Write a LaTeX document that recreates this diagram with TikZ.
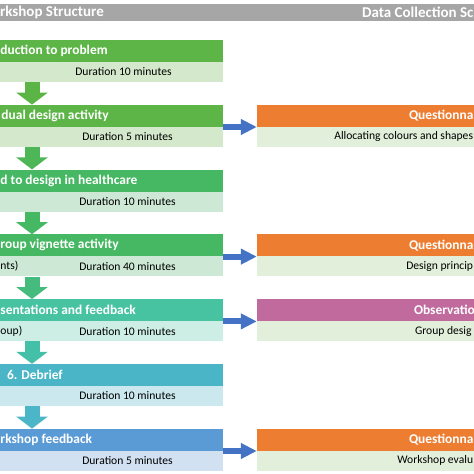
\documentclass[tikz,border=0pt]{standalone}
\usepackage{fontspec}
\setmainfont{Carlito}
\usetikzlibrary{positioning, arrows.meta}

\definecolor{headgray}{HTML}{A6A6A6}
\definecolor{green1}{HTML}{5DB548}
\definecolor{green2}{HTML}{46B763}
\definecolor{green3}{HTML}{48C3A2}
\definecolor{cyan1}{HTML}{4AB5C6}
\definecolor{blue1}{HTML}{5B9BD5}
\definecolor{lgreen1}{HTML}{D4E9CB}
\definecolor{lgreen2}{HTML}{CDE9D5}
\definecolor{lgreen3}{HTML}{CDEEE4}
\definecolor{lcyan1}{HTML}{CBE8EE}
\definecolor{lblue1}{HTML}{D2E1F2}
\definecolor{arr1}{HTML}{5BB446}
\definecolor{arr2}{HTML}{4DB657}
\definecolor{arr3}{HTML}{45B864}
\definecolor{arr4}{HTML}{45BB7E}
\definecolor{arr5}{HTML}{45C0A8}
\definecolor{arr6}{HTML}{4BB6C8}
\definecolor{orange1}{HTML}{ED7D31}
\definecolor{mauve1}{HTML}{C06A9E}
\definecolor{rsubgreen}{HTML}{E2EFDA}
\definecolor{arrowblue}{HTML}{4472C4}

\begin{document}
\begin{tikzpicture}[x=1pt,y=1pt,node distance=21pt,on grid,
    bar/.style={fill=#1, minimum width=223pt, minimum height=22pt, inner sep=0pt},
    subbar/.style={fill=#1, minimum width=223pt, minimum height=20pt, inner sep=0pt},
    rbar/.style={fill=#1, minimum width=382pt, minimum height=22pt, inner sep=0pt},
    rsub/.style={fill=rsubgreen, minimum width=382pt, minimum height=20pt, inner sep=0pt},
    ttl/.style={text=white, font=\bfseries\fontsize{13.4}{15}\selectfont, inner sep=0pt, anchor=west},
    dur/.style={font=\fontsize{11.6}{13}\selectfont, inner sep=0pt},
    flow/.style={draw=#1, line width=15pt, -{Triangle[width=31pt,length=12pt]}},
    feed/.style={draw=arrowblue, line width=6pt, -{Triangle[width=15pt,length=16pt]}}]
  \useasboundingbox (0,0) rectangle (474,-474);
  \clip (0,0) rectangle (474,-474);

  % header
  \node[fill=headgray, minimum width=474pt, minimum height=17pt, inner sep=0pt] (head) at (237,-12.5) {};
  \node[ttl, font=\bfseries\fontsize{15}{17}\selectfont] (head_l) at (head.west) {rkshop Structure};
  \node[ttl, font=\bfseries\fontsize{15}{17}\selectfont, anchor=east] (head_r) at ([xshift=-0.5pt]head.east) {Data Collection Sc};

  % workshop steps
  \node[bar=green1] (t_1) at (111.5,-51) {};
  \node[subbar=lgreen1] (s_1) [below=of t_1] {};
  \node[bar=green1] (t_2) at (111.5,-115.8) {};
  \node[subbar=lgreen1] (s_2) [below=of t_2] {};
  \node[bar=green2] (t_3) at (111.5,-180.6) {};
  \node[subbar=lgreen2] (s_3) [below=of t_3] {};
  \node[bar=green2] (t_4) at (111.5,-245.4) {};
  \node[subbar=lgreen2] (s_4) [below=of t_4] {};
  \node[bar=green3] (t_5) at (111.5,-310.2) {};
  \node[subbar=lgreen3] (s_5) [below=of t_5] {};
  \node[bar=cyan1] (t_6) at (111.5,-375) {};
  \node[subbar=lcyan1] (s_6) [below=of t_6] {};
  \node[bar=blue1] (t_7) at (111.5,-439.8) {};
  \node[subbar=lblue1] (s_7) [below=of t_7] {};

  \node[ttl] at ([xshift=0.5pt]t_1.west) {duction to problem};
  \node[ttl] at ([xshift=1.5pt]t_2.west) {dual design activity};
  \node[ttl] at ([xshift=0.5pt]t_3.west) {d to design in healthcare};
  \node[ttl] at ([xshift=0.5pt]t_4.west) {roup vignette activity};
  \node[ttl] at ([xshift=0.5pt]t_5.west) {sentations and feedback};
  \node[ttl] at ([xshift=7pt]t_6.west) {6. Debrief};
  \node[ttl] at ([xshift=0.5pt]t_7.west) {rkshop feedback};

  \node[dur] at ([xshift=12pt]s_1.center) {Duration 10 minutes};
  \node[dur] at ([xshift=16pt]s_2.center) {Duration 5 minutes};
  \node[dur] at ([xshift=16pt]s_3.center) {Duration 10 minutes};
  \node[dur, anchor=west] at ([xshift=0.5pt]s_4.west) {nts)};
  \node[dur] at ([xshift=16pt]s_4.center) {Duration 40 minutes};
  \node[dur, anchor=west] at ([xshift=0.5pt]s_5.west) {oup)};
  \node[dur] at ([xshift=16pt]s_5.center) {Duration 10 minutes};
  \node[dur] at ([xshift=16pt]s_6.center) {Duration 10 minutes};
  \node[dur] at ([xshift=16pt]s_7.center) {Duration 5 minutes};

  % data collection
  \node[rbar=orange1] (q_1) at (448,-115.8) {};
  \node[rsub] (r_1) [below=of q_1] {};
  \node[rbar=orange1] (q_2) at (448,-245.4) {};
  \node[rsub] (r_2) [below=of q_2] {};
  \node[rbar=mauve1] (q_3) at (448,-310.2) {};
  \node[rsub] (r_3) [below=of q_3] {};
  \node[rbar=orange1] (q_4) at (448,-439.8) {};
  \node[rsub] (r_4) [below=of q_4] {};

  \node[ttl] at ([xshift=152pt]q_1.west) {Questionna};
  \node[ttl] at ([xshift=152pt]q_2.west) {Questionna};
  \node[ttl] at ([xshift=157pt]q_3.west) {Observatio};
  \node[ttl] at ([xshift=152pt]q_4.west) {Questionna};
  \node[dur, anchor=east] at ([xshift=216.5pt]r_1.west) {Allocating colours and shapes};
  \node[dur, anchor=east] at ([xshift=216.5pt]r_2.west) {Design princip};
  \node[dur, anchor=west] at ([xshift=158pt]r_3.west) {Group desig};
  \node[dur, anchor=east] at ([xshift=216.5pt]r_4.west) {Workshop evalu};

  % arrows
  \coordinate (mid) at (32,0);
  \draw[flow=arr1] (mid |- s_1.south) -- (mid |- t_2.north);
  \draw[flow=arr2] (mid |- s_2.south) -- (mid |- t_3.north);
  \draw[flow=arr3] (mid |- s_3.south) -- (mid |- t_4.north);
  \draw[flow=arr4] (mid |- s_4.south) -- (mid |- t_5.north);
  \draw[flow=arr5] (mid |- s_5.south) -- (mid |- t_6.north);
  \draw[flow=arr6] (mid |- s_6.south) -- (mid |- t_7.north);

  \draw[feed] (t_2.south east) -- (q_1.south west);
  \draw[feed] (t_4.south east) -- (q_2.south west);
  \draw[feed] (t_5.south east) -- (q_3.south west);
  \draw[feed] (t_7.south east) -- (q_4.south west);
\end{tikzpicture}
\end{document}
